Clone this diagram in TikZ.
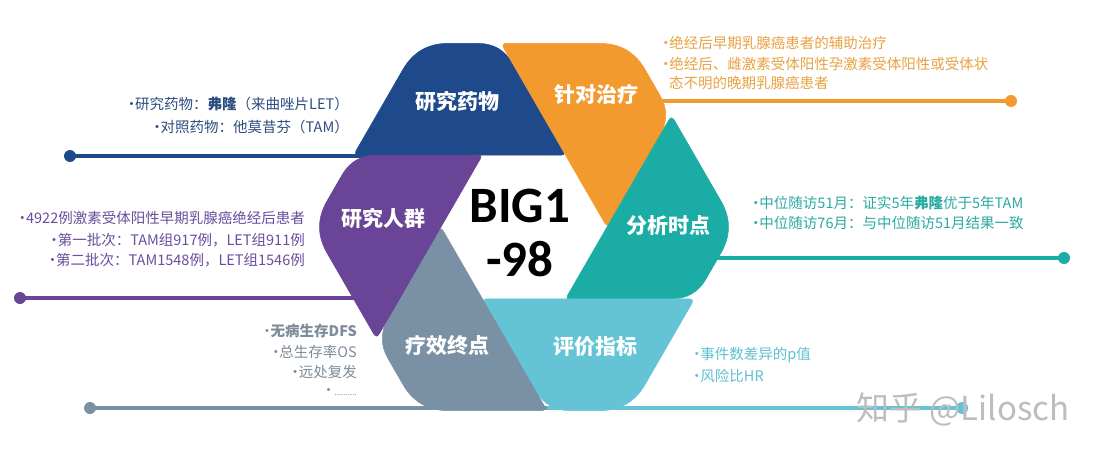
\documentclass[tikz,border=0pt]{standalone}
\usepackage{fontspec}
\setmainfont{Noto Sans CJK SC}
\newfontfamily\bigfont{Carlito}
\usetikzlibrary{calc}
\definecolor{cNavy}{HTML}{1E4A8C}
\definecolor{cOrange}{HTML}{F29A2E}
\definecolor{cTeal}{HTML}{1BADA5}
\definecolor{cSky}{HTML}{64C4D6}
\definecolor{cSlate}{HTML}{7A91A5}
\definecolor{cPurple}{HTML}{694497}
\definecolor{tNavy}{HTML}{2B4D80}
\definecolor{tOrange}{HTML}{E9A243}
\definecolor{tTeal}{HTML}{2AAAA2}
\definecolor{tSky}{HTML}{5FC0D2}
\definecolor{tSlate}{HTML}{7E8B98}
\definecolor{tPurple}{HTML}{6B4E9E}
\definecolor{wmGray}{HTML}{BDBDBD}
\newcommand\bul{\makebox[0.5em][c]{•}}
% #1 colour, #2 outer vertex, #3 B, #4 inner vertex, #5 E
\newcommand\drawblade[5]{%
  \filldraw[fill=#1,draw=#1,line width=0.5pt]
    ($(#2)!30pt!(#3)$) -- ($(#3)!23pt!(#2)$)
      .. controls ($(#3)!7.7pt!(#2)$) and ($(#3)!7.7pt!(#4)$) .. ($(#3)!23pt!(#4)$)
    -- ($(#4)!4pt!(#3)$)
      .. controls ($(#4)!1.3pt!(#3)$) and ($(#4)!1.3pt!(#5)$) .. ($(#4)!4pt!(#5)$)
    -- ($(#5)!6pt!(#4)$)
      .. controls ($(#5)!2pt!(#4)$) and ($(#5)!2pt!(#2)$) .. ($(#5)!6pt!(#2)$)
    -- ($(#2)!30pt!(#5)$)
      .. controls ($(#2)!10pt!(#5)$) and ($(#2)!10pt!(#3)$) .. ($(#2)!30pt!(#3)$) -- cycle;}
\tikzset{
  conn/.style={line width=4.5pt},
  dotnode/.style={circle,inner sep=0pt,minimum size=12pt},
  sidetxt/.style={inner sep=0pt,font=\fontsize{14.5}{17}\selectfont},
  bladelbl/.style={text=white,inner sep=0pt,font=\fontsize{21}{24}\selectfont\bfseries},
}
\begin{document}
\begin{tikzpicture}[x=1pt,y=-1pt]
\useasboundingbox (0,0) rectangle (1096,455);
\fill[white] (0,0) rectangle (1096,455);
% geometry
\coordinate (TL) at (418,43.4);
\coordinate (TR) at (630,43.4);
\coordinate (R)  at (736,227);
\coordinate (BR) at (630,410.6);
\coordinate (BL) at (418,410.6);
\coordinate (L)  at (312,227);
\coordinate (iR)  at (607,227);
\coordinate (iTR) at (565.5,155.1);
\coordinate (iTL) at (482.5,155.1);
\coordinate (iL)  at (441,227);
\coordinate (iBL) at (482.5,298.9);
\coordinate (iBR) at (565.5,298.9);
\coordinate (b0) at (501,43.4);
\coordinate (b1) at (671.5,115.3);
\coordinate (b2) at (694.5,298.9);
\coordinate (b3) at (547,410.6);
\coordinate (b4) at (376.5,338.7);
\coordinate (b5) at (353.5,155.1);
% connectors (behind the blades)
\node[dotnode,fill=cNavy] (dNavy) at (70,156) {};
\coordinate (eNavy) at (420,156);
\draw[conn,cNavy] (dNavy.center) -- (eNavy);
\node[dotnode,fill=cPurple] (dPurple) at (20,298) {};
\coordinate (ePurple) at (420,298);
\draw[conn,cPurple] (dPurple.center) -- (ePurple);
\node[dotnode,fill=cSlate] (dSlate) at (90,408) {};
\coordinate (eSlate) at (547,408);
\draw[conn,cSlate] (dSlate.center) -- (eSlate);
\node[dotnode,fill=cOrange] (dOrange) at (1011,101) {};
\coordinate (eOrange) at (620,101);
\draw[conn,cOrange] (eOrange) -- (dOrange.center);
\node[dotnode,fill=cTeal] (dTeal) at (1064,258) {};
\coordinate (eTeal) at (660,258);
\draw[conn,cTeal] (eTeal) -- (dTeal.center);
\node[dotnode,fill=cSky] (dSky) at (962,408) {};
\coordinate (eSky) at (547,408);
\draw[conn,cSky] (eSky) -- (dSky.center);
% blades
\drawblade{cNavy}{TL}{b0}{iTR}{b5}
\drawblade{cOrange}{TR}{b1}{iR}{b0}
\drawblade{cTeal}{R}{b2}{iBR}{b1}
\drawblade{cSky}{BR}{b3}{iBL}{b2}
\drawblade{cSlate}{BL}{b4}{iL}{b3}
\drawblade{cPurple}{L}{b5}{iTL}{b4}
% blade labels
\node[bladelbl] (lDrug)  at (457,101) {研究药物};
\node[bladelbl] (lTher)  at (596,95)  {针对治疗};
\node[bladelbl] (lTime)  at (668,226) {分析时点};
\node[bladelbl] (lIndex) at (595,347) {评价指标};
\node[bladelbl] (lEnd)   at (447,346) {疗效终点};
\node[bladelbl] (lPop)   at (383,218) {研究人群};
% centre
\node[inner sep=0pt,align=center,font=\bigfont\bfseries\fontsize{51}{54}\selectfont] (title) at (520,233) {BIG1\\-98};
% side texts
\node[sidetxt,text=tNavy,anchor=east] (tn1) at (349,104) {\bul 研究药物：{\bfseries 弗隆}（来曲唑片LET）};
\node[sidetxt,text=tNavy,anchor=east] (tn2) at (349,127) {\bul 对照药物：他莫昔芬（TAM）};
\node[sidetxt,text=tPurple,anchor=east] (tp1) at (305,218) {\bul 4922例激素受体阳性早期乳腺癌绝经后患者};
\node[sidetxt,text=tPurple,anchor=east] (tp2) at (305,240) {\bul 第一批次：TAM组917例，LET组911例};
\node[sidetxt,text=tPurple,anchor=east] (tp3) at (305,260) {\bul 第二批次：TAM1548例，LET组1546例};
\node[sidetxt,text=tSlate,anchor=east] (ts1) at (357,331) {\bul{\bfseries 无病生存DFS}};
\node[sidetxt,text=tSlate,anchor=east] (ts2) at (357,352) {\bul 总生存率OS};
\node[sidetxt,text=tSlate,anchor=east] (ts3) at (357,372) {\bul 远处复发};
\node[sidetxt,text=tSlate,anchor=east] (ts4) at (357,392) {\bul\,{\fontsize{8}{8}\selectfont ..........}};
\node[sidetxt,text=tOrange,anchor=west] (to1) at (662,43) {\bul 绝经后早期乳腺癌患者的辅助治疗};
\node[sidetxt,text=tOrange,anchor=west] (to2) at (662,64) {\bul 绝经后、雌激素受体阳性孕激素受体阳性或受体状};
\node[sidetxt,text=tOrange,anchor=west] (to3) at (669,83) {态不明的晚期乳腺癌患者};
\node[sidetxt,text=tTeal,anchor=west] (tt1) at (752,203) {\bul 中位随访51月：证实5年{\bfseries 弗隆}优于5年TAM};
\node[sidetxt,text=tTeal,anchor=west] (tt2) at (752,223) {\bul 中位随访76月：与中位随访51月结果一致};
\node[sidetxt,text=tSky,anchor=west] (tk1) at (693,355) {\bul 事件数差异的p值};
\node[sidetxt,text=tSky,anchor=west] (tk2) at (693,376) {\bul 风险比HR};
% watermark
\node[inner sep=0pt,text=wmGray,font=\fontsize{33}{36}\selectfont] (wm) at (963,409) {知乎 @Lilosch};
\end{tikzpicture}
\end{document}
